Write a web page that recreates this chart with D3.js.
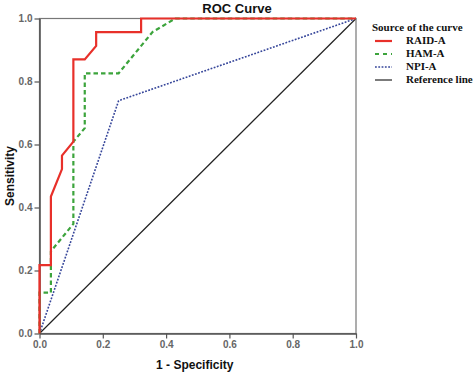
<!DOCTYPE html>
<html>
<head>
<meta charset="utf-8">
<script src="https://cdn.jsdelivr.net/npm/d3@7"></script>
<style>
  body { margin: 0; background: #fff; }
  svg { display: block; }
</style>
</head>
<body>
<svg id="chart" width="474" height="374"></svg>
<script>
// ROC points (1 - specificity, sensitivity)
var raidX = [0, 0, 0.036, 0.036, 0.071, 0.071, 0.107, 0.107, 0.143, 0.179, 0.179, 0.321, 0.321, 1];
var raidY = [0, 0.217, 0.217, 0.435, 0.522, 0.565, 0.609, 0.870, 0.870, 0.913, 0.957, 0.957, 1, 1];
var hamX = [0, 0, 0.036, 0.036, 0.107, 0.107, 0.143, 0.143, 0.25, 0.357, 0.429, 1];
var hamY = [0, 0.130, 0.130, 0.261, 0.348, 0.609, 0.652, 0.826, 0.826, 0.957, 1, 1];
var npiX = [0, 0.25, 1];
var npiY = [0, 0.739, 1];
var refX = [0, 1];
var refY = [0, 1];

var seriesNames = ["RAID-A", "HAM-A", "NPI-A", "Reference line"];
var tickVals = [0, 0.2, 0.4, 0.6, 0.8, 1.0];

var svg = d3.select("#chart");
var pLeft = 39.5, pRight = 356, pTop = 18.5, pBottom = 333.5;

var x = d3.scaleLinear().domain([0, 1]).range([pLeft, pRight]);
var y = d3.scaleLinear().domain([0, 1]).range([pBottom, pTop]);

var sans = "'Liberation Sans', Arial, sans-serif";
var serif = "'Liberation Serif', 'Times New Roman', serif";

// frame
svg.append("rect")
    .attr("x", pLeft).attr("y", pTop)
    .attr("width", pRight - pLeft).attr("height", pBottom - pTop)
    .attr("fill", "none").attr("stroke", "#777").attr("stroke-width", 1.2);

var styles = {
  "RAID-A": {color: "#e8302a", width: 2.2, dash: null},
  "HAM-A": {color: "#3ca43c", width: 2.2, dash: "4.5,3"},
  "NPI-A": {color: "#36469a", width: 1.6, dash: "1.8,1.5"},
  "Reference line": {color: "#222", width: 1.2, dash: null}
};

var series = [
  {name: "Reference line", xs: refX, ys: refY},
  {name: "NPI-A", xs: npiX, ys: npiY},
  {name: "HAM-A", xs: hamX, ys: hamY},
  {name: "RAID-A", xs: raidX, ys: raidY}
];

var line = d3.line().x(function(d) { return x(d[0]); }).y(function(d) { return y(d[1]); });

// axes
var yAxis = svg.append("g")
    .attr("transform", "translate(" + pLeft + ",0)")
    .call(d3.axisLeft(y).tickValues(tickVals).tickFormat(d3.format(".1f")).tickSize(5).tickSizeOuter(0).tickPadding(2));
var xAxis = svg.append("g")
    .attr("transform", "translate(0," + pBottom + ")")
    .call(d3.axisBottom(x).tickValues(tickVals).tickFormat(d3.format(".1f")).tickSize(5).tickSizeOuter(0).tickPadding(2));

[xAxis, yAxis].forEach(function(a) {
  a.select(".domain").attr("stroke", "#555").attr("stroke-width", 1.6);
  a.selectAll(".tick line").attr("stroke", "#555").attr("stroke-width", 1.2);
  a.selectAll(".tick text")
    .attr("fill", "#666")
    .style("font-family", sans)
    .style("font-size", "10px")
    .style("font-weight", "bold");
});

series.forEach(function(s) {
  var st = styles[s.name];
  svg.append("path")
    .datum(s.xs.map(function(v, i) { return [v, s.ys[i]]; }))
    .attr("d", line)
    .attr("fill", "none")
    .attr("stroke", st.color)
    .attr("stroke-width", st.width)
    .attr("stroke-dasharray", st.dash)
    .attr("stroke-linejoin", "miter");
});

// titles
svg.append("text")
    .attr("x", 237).attr("y", 12.5)
    .attr("text-anchor", "middle")
    .style("font-family", sans).style("font-size", "13px").style("font-weight", "bold")
    .attr("fill", "#111")
    .text("ROC Curve");

svg.append("text")
    .attr("x", (pLeft + pRight) / 2 - 3).attr("y", 369)
    .attr("text-anchor", "middle")
    .style("font-family", sans).style("font-size", "12px").style("font-weight", "bold")
    .attr("fill", "#111")
    .text("1 - Specificity");

svg.append("text")
    .attr("transform", "translate(14," + ((pTop + pBottom) / 2) + ") rotate(-90)")
    .attr("text-anchor", "middle")
    .style("font-family", sans).style("font-size", "12px").style("font-weight", "bold")
    .attr("fill", "#111")
    .text("Sensitivity");

// legend
var lg = svg.append("g").attr("transform", "translate(372,31)");
lg.append("text")
    .attr("x", 0).attr("y", 0)
    .style("font-family", serif).style("font-size", "11px").style("font-weight", "bold")
    .attr("fill", "#111")
    .text("Source of the curve");

seriesNames.forEach(function(n, i) {
  var st = styles[n];
  var yy = 13 * (i + 1);
  lg.append("line")
    .attr("x1", 3).attr("x2", 20)
    .attr("y1", yy - 3).attr("y2", yy - 3)
    .attr("stroke", st.color)
    .attr("stroke-width", st.width)
    .attr("stroke-dasharray", n === "HAM-A" ? "4,4" : st.dash);
  lg.append("text")
    .attr("x", 34).attr("y", yy)
    .style("font-family", serif).style("font-size", "11px").style("font-weight", "bold")
    .attr("fill", "#111")
    .text(n);
});
</script>
</body>
</html>
